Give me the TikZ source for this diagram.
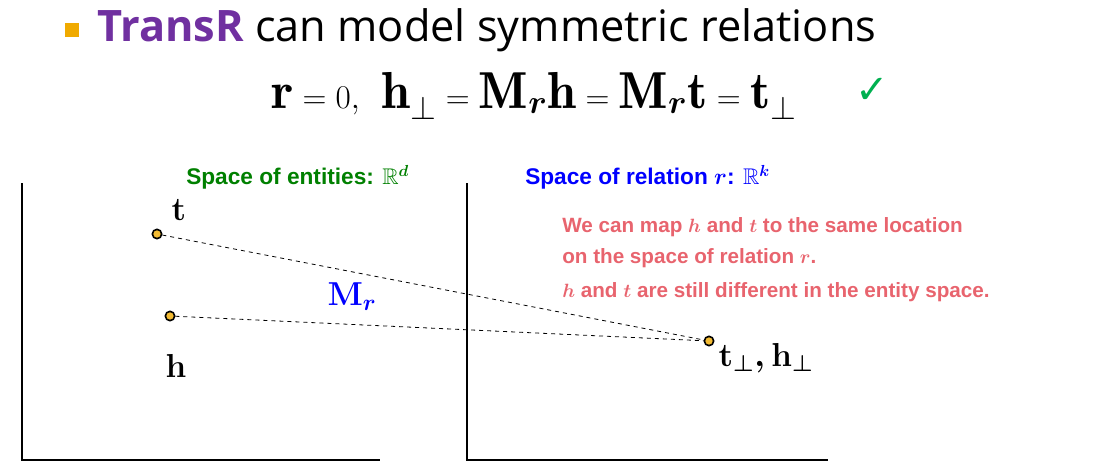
\documentclass[tikz,border=0pt]{standalone}
\usepackage{amsmath,amssymb}
\usepackage{fontspec}
\newfontfamily\titlefont{Open Sans}
\newfontfamily\arialfont{Liberation Sans}
\newfontfamily\symfont{DejaVu Sans}
\definecolor{tpurple}{RGB}{112,48,160}
\definecolor{bullet}{RGB}{240,170,0}
\definecolor{egreen}{RGB}{0,128,0}
\definecolor{pinkt}{RGB}{232,100,110}
\definecolor{chk}{RGB}{0,176,80}
\begin{document}
\begin{tikzpicture}[x=0.75pt,y=-0.75pt,
  axis/.style={line width=1.5pt},
  dotn/.style={circle,draw=black,fill=bullet!80,line width=1.2pt,inner sep=0pt,minimum size=7pt},
  proj/.style={dashed,line width=0.6pt},
  lbl/.style={inner sep=0pt},
  big/.style={font=\fontsize{25}{30}\selectfont\boldmath}]
\useasboundingbox (0,0) rectangle (1093,468);
\fill[bullet] (65,23) rectangle (79,37);
\node[lbl,anchor=west] (title) at (97,30) {\titlefont\fontsize{32.5}{38}\selectfont\textbf{\color{tpurple}TransR} can model symmetric relations};
\node[lbl] (eq) at (534,96) {\fontsize{39}{46}\selectfont$\mathbf{r}=0,\ \mathbf{h}_\perp=\mathbf{M}_{\boldsymbol{r}}\mathbf{h}=\mathbf{M}_{\boldsymbol{r}}\mathbf{t}=\mathbf{t}_\perp$};
\node[lbl,anchor=west] (chk) at (855,91) {\symfont\fontsize{30}{34}\selectfont\color{chk}✓};
% axes
\draw[axis] (22,183) -- (22,460) -- (380,460);
\draw[axis] (467,183) -- (467,460) -- (828,460);
\node[lbl,anchor=west] (sl) at (186,177) {\arialfont\fontsize{17}{20}\selectfont\bfseries\color{egreen}Space of entities: $\mathbb{R}^{\boldsymbol{d}}$};
\node[lbl,anchor=west] (sr) at (525,177) {\arialfont\fontsize{17}{20}\selectfont\bfseries\color{blue}Space of relation $\boldsymbol{r}$: $\mathbb{R}^{\boldsymbol{k}}$};
\node[lbl,anchor=north west,align=left,text=pinkt,font=\arialfont\fontsize{15.5}{23.5}\selectfont\bfseries\boldmath] (note) at (562,217) {We can map $h$ and $t$ to the same location\\on the space of relation $r$.\\[2pt]$h$ and $t$ are still different in the entity space.};
% points
\node[dotn] (t) at (157,234) {};
\node[dotn] (h) at (170,316) {};
\node[dotn] (tp) at (709,341) {};
\draw[proj] (t) -- (tp);
\draw[proj] (h) -- (tp);
\node[lbl,big] (tl) at (179,210) {$\mathbf{t}$};
\node[lbl,big] (hl) at (176,366) {$\mathbf{h}$};
\node[lbl,big,text=blue] (mr) at (352,297) {$\mathbf{M}_{r}$};
\node[lbl,big] (tpl) at (766,358) {$\mathbf{t}_\perp,\mathbf{h}_\perp$};
\end{tikzpicture}
\end{document}
